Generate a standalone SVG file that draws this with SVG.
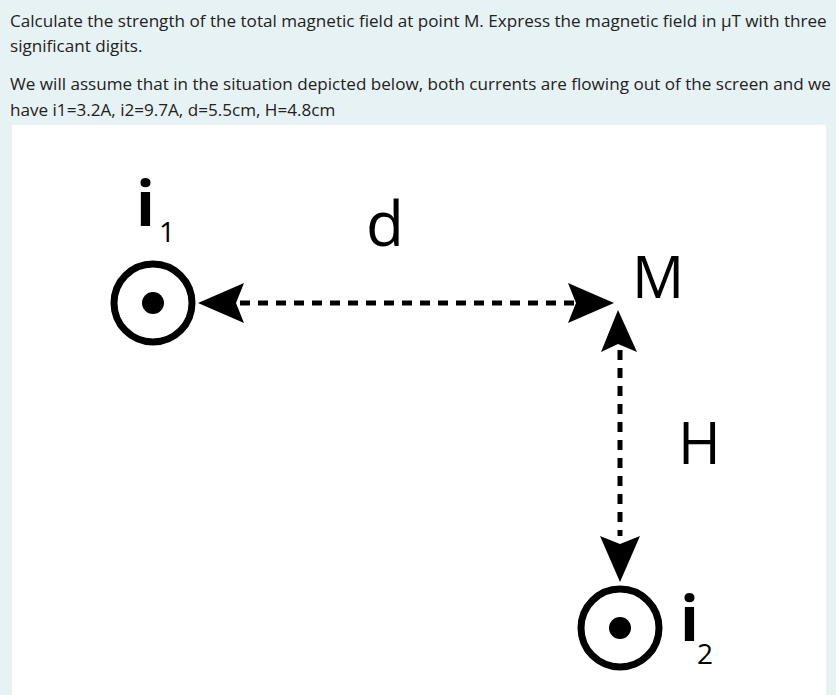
<svg xmlns="http://www.w3.org/2000/svg" width="836" height="695" viewBox="0 0 836 695">
<style>
.t{font-family:"Open Sans","Noto Sans",sans-serif;font-size:17.1px;fill:#222}
.l{font-family:"Open Sans","Noto Sans",sans-serif;fill:#000}
.ring{fill:none;stroke:#000;stroke-width:7}
.dash{stroke:#000;stroke-width:5;stroke-dasharray:10 8;fill:none}
</style>
<rect width="836" height="695" fill="#e6f2f4"/>
<rect x="12" y="125" width="814" height="570" fill="#fff"/>
<text class="t" x="10" y="27">Calculate the strength of the total magnetic field at point M. Express the magnetic field in µT with three</text>
<text class="t" x="10" y="52">significant digits.</text>
<text class="t" x="10" y="90">We will assume that in the situation depicted below, both currents are flowing out of the screen and we</text>
<text class="t" x="10" y="116">have i1=3.2A, i2=9.7A, d=5.5cm, H=4.8cm</text>
<g id="i1"><circle class="ring" cx="153" cy="303" r="39"/><circle cx="153" cy="303" r="11"/>
<text class="l" x="136" y="226" font-size="62" font-weight="bold">i</text><text class="l" x="159" y="242" font-size="28">1</text></g>
<g id="i2"><circle class="ring" cx="620" cy="628" r="39"/><circle cx="620" cy="628" r="11"/>
<text class="l" x="680" y="641" font-size="62" font-weight="bold">i</text><text class="l" x="697" y="664" font-size="28">2</text></g>
<g id="M"><text class="l" x="632" y="298" font-size="58">M</text></g>
<g id="labels"><text class="l" x="366" y="246" font-size="62">d</text><text class="l" x="678" y="464" font-size="58">H</text></g>
<g id="connectors">
<path class="dash" d="M240 303H574"/>
<path d="M198 303L244 283L236 303L244 323Z"/>
<path d="M614 303L568 283L576 303L568 323Z"/>
<path class="dash" d="M620 350V536"/>
<path d="M618 310L601 352L618 344L637 352Z"/>
<path d="M620 582L600 536L620 544L640 536Z"/>
</g>
</svg>
